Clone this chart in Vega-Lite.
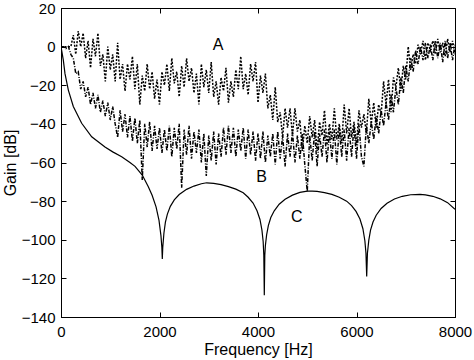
{
  "$schema": "https://vega.github.io/schema/vega-lite/v6.json",
  "width": 394,
  "height": 309,
  "autosize": "none",
  "padding": {"left": 61, "top": 8, "right": 19, "bottom": 43},
  "background": "white",
  "datasets": {
    "C": [
      {"f":0,"g":0},{"f":47,"g":-7},{"f":81,"g":-14},{"f":149,"g":-22.5},{"f":250,"g":-31},{"f":420,"g":-39.7},{"f":623,"g":-46.7},{"f":893,"g":-52},{"f":1050,"g":-54.5},{"f":1232,"g":-57},{"f":1400,"g":-60},{"f":1503,"g":-62},{"f":1650,"g":-66.5},{"f":1773,"g":-72.6},{"f":1850,"g":-77},{"f":1930,"g":-83},{"f":1990,"g":-90},{"f":2030,"g":-98},{"f":2048,"g":-104},{"f":2057,"g":-110},{"f":2066,"g":-104},{"f":2090,"g":-96.5},{"f":2120,"g":-90.9},{"f":2160,"g":-86.7},{"f":2220,"g":-82.7},{"f":2300,"g":-79.4},{"f":2400,"g":-76.6},{"f":2550,"g":-73.9},{"f":2700,"g":-72.2},{"f":2850,"g":-71},{"f":2958,"g":-70.5},{"f":3100,"g":-70.8},{"f":3250,"g":-71.5},{"f":3400,"g":-72.5},{"f":3550,"g":-73.8},{"f":3700,"g":-75.7},{"f":3800,"g":-78},{"f":3900,"g":-81},{"f":3980,"g":-85},{"f":4040,"g":-89.5},{"f":4080,"g":-95},{"f":4105,"g":-101},{"f":4118,"g":-108},{"f":4128,"g":-128.7},{"f":4138,"g":-108},{"f":4150,"g":-103},{"f":4175,"g":-97.5},{"f":4210,"g":-92.7},{"f":4260,"g":-88.5},{"f":4330,"g":-85},{"f":4430,"g":-81.6},{"f":4550,"g":-79},{"f":4700,"g":-76.9},{"f":4850,"g":-75.5},{"f":5000,"g":-74.8},{"f":5100,"g":-74.8},{"f":5200,"g":-75},{"f":5350,"g":-75.6},{"f":5500,"g":-76.5},{"f":5650,"g":-78},{"f":5800,"g":-80},{"f":5900,"g":-82.3},{"f":5990,"g":-85.3},{"f":6070,"g":-89.3},{"f":6130,"g":-94.3},{"f":6170,"g":-100.5},{"f":6192,"g":-107},{"f":6207,"g":-119},{"f":6222,"g":-107},{"f":6250,"g":-100.2},{"f":6285,"g":-95},{"f":6335,"g":-90.8},{"f":6400,"g":-87.3},{"f":6500,"g":-83.8},{"f":6620,"g":-81.1},{"f":6770,"g":-78.9},{"f":6930,"g":-77.5},{"f":7100,"g":-76.7},{"f":7290,"g":-76.5},{"f":7400,"g":-76.8},{"f":7550,"g":-77.5},{"f":7700,"g":-78.8},{"f":7850,"g":-80.8},{"f":8000,"g":-84.2}
    ],
    "A": [
      {"f":0,"g":0},{"f":50,"g":0},{"f":100,"g":0},{"f":150,"g":0},{"f":200,"g":0},{"f":250,"g":6},{"f":300,"g":-4},{"f":350,"g":8},{"f":400,"g":0},{"f":450,"g":7},{"f":500,"g":-6},{"f":550,"g":3},{"f":600,"g":-11},{"f":650,"g":4},{"f":700,"g":-5},{"f":750,"g":7},{"f":800,"g":-10},{"f":850,"g":-4},{"f":900,"g":-18},{"f":950,"g":0},{"f":1000,"g":-12},{"f":1050,"g":-4},{"f":1100,"g":-18},{"f":1150,"g":2},{"f":1200,"g":-17},{"f":1250,"g":-9},{"f":1300,"g":-23},{"f":1350,"g":-9},{"f":1400,"g":-17},{"f":1450,"g":-5},{"f":1500,"g":-22},{"f":1550,"g":-9},{"f":1600,"g":-30},{"f":1650,"g":-15},{"f":1700,"g":-23},{"f":1750,"g":-9},{"f":1800,"g":-22},{"f":1850,"g":-13},{"f":1900,"g":-27},{"f":1950,"g":-17},{"f":2000,"g":-30},{"f":2050,"g":-13},{"f":2100,"g":-20},{"f":2150,"g":-9},{"f":2200,"g":-23},{"f":2250,"g":-6},{"f":2300,"g":-19},{"f":2350,"g":-13},{"f":2400,"g":-26},{"f":2450,"g":-10},{"f":2500,"g":-21},{"f":2550,"g":-6},{"f":2600,"g":-18},{"f":2650,"g":-11},{"f":2700,"g":-24},{"f":2750,"g":-14},{"f":2800,"g":-30},{"f":2850,"g":-9},{"f":2900,"g":-21},{"f":2950,"g":-12},{"f":3000,"g":-24},{"f":3050,"g":-8},{"f":3100,"g":-26},{"f":3150,"g":-18},{"f":3200,"g":-30},{"f":3250,"g":-16},{"f":3300,"g":-23},{"f":3350,"g":-11},{"f":3400,"g":-29},{"f":3450,"g":-18},{"f":3500,"g":-26},{"f":3550,"g":-12},{"f":3600,"g":-22},{"f":3650,"g":-5},{"f":3700,"g":-22},{"f":3750,"g":-14},{"f":3800,"g":-25},{"f":3850,"g":-9},{"f":3900,"g":-18},{"f":3950,"g":-8},{"f":4000,"g":-29},{"f":4050,"g":-15},{"f":4100,"g":-24},{"f":4150,"g":-14},{"f":4200,"g":-32},{"f":4250,"g":-25},{"f":4300,"g":-38},{"f":4350,"g":-21},{"f":4400,"g":-39},{"f":4450,"g":-34},{"f":4500,"g":-47},{"f":4550,"g":-32},{"f":4600,"g":-42},{"f":4650,"g":-32},{"f":4700,"g":-46},{"f":4750,"g":-32},{"f":4800,"g":-44},{"f":4850,"g":-38},{"f":4900,"g":-54},{"f":4950,"g":-41},{"f":5000,"g":-50},{"f":5050,"g":-36},{"f":5100,"g":-47},{"f":5150,"g":-38},{"f":5200,"g":-54},{"f":5250,"g":-39},{"f":5300,"g":-46},{"f":5350,"g":-33},{"f":5400,"g":-51},{"f":5450,"g":-40},{"f":5500,"g":-48},{"f":5550,"g":-32},{"f":5600,"g":-48},{"f":5650,"g":-40},{"f":5700,"g":-50},{"f":5750,"g":-30},{"f":5800,"g":-45},{"f":5850,"g":-32},{"f":5900,"g":-47},{"f":5950,"g":-39},{"f":6000,"g":-51},{"f":6050,"g":-33},{"f":6100,"g":-42},{"f":6150,"g":-35},{"f":6200,"g":-45},{"f":6250,"g":-27},{"f":6300,"g":-40},{"f":6350,"g":-29},{"f":6400,"g":-42},{"f":6450,"g":-30},{"f":6500,"g":-35},{"f":6550,"g":-18},{"f":6600,"g":-30},{"f":6650,"g":-17},{"f":6700,"g":-34},{"f":6750,"g":-16},{"f":6800,"g":-21},{"f":6850,"g":-11},{"f":6900,"g":-23},{"f":6950,"g":-10},{"f":7000,"g":-17},{"f":7050,"g":0},{"f":7100,"g":-12},{"f":7150,"g":-4},{"f":7200,"g":-9},{"f":7250,"g":1},{"f":7300,"g":-4},{"f":7350,"g":3},{"f":7400,"g":-7},{"f":7450,"g":2},{"f":7500,"g":-2},{"f":7550,"g":3},{"f":7600,"g":-4},{"f":7650,"g":4},{"f":7700,"g":-3},{"f":7750,"g":2},{"f":7800,"g":-5},{"f":7850,"g":4},{"f":7900,"g":-3},{"f":7950,"g":3},{"f":8000,"g":-4}
    ],
    "B": [
      {"f":0,"g":0},{"f":50,"g":0},{"f":100,"g":-1},{"f":150,"g":0},{"f":200,"g":-4},{"f":250,"g":-6},{"f":300,"g":-14},{"f":350,"g":-13},{"f":400,"g":-22},{"f":450,"g":-18},{"f":500,"g":-26},{"f":550,"g":-21},{"f":600,"g":-30},{"f":650,"g":-24},{"f":700,"g":-32},{"f":750,"g":-25},{"f":800,"g":-34},{"f":850,"g":-28},{"f":900,"g":-36},{"f":950,"g":-29},{"f":1000,"g":-38},{"f":1050,"g":-31},{"f":1100,"g":-40},{"f":1150,"g":-47},{"f":1200,"g":-33},{"f":1250,"g":-44},{"f":1300,"g":-35},{"f":1350,"g":-47},{"f":1400,"g":-36},{"f":1450,"g":-49},{"f":1500,"g":-37},{"f":1550,"g":-50},{"f":1600,"g":-38},{"f":1650,"g":-69},{"f":1700,"g":-40},{"f":1750,"g":-52},{"f":1800,"g":-39},{"f":1850,"g":-54},{"f":1900,"g":-41},{"f":1950,"g":-53},{"f":2000,"g":-42},{"f":2050,"g":-55},{"f":2100,"g":-43},{"f":2150,"g":-54},{"f":2200,"g":-41},{"f":2250,"g":-57},{"f":2300,"g":-42},{"f":2350,"g":-53},{"f":2400,"g":-40},{"f":2450,"g":-73},{"f":2500,"g":-43},{"f":2550,"g":-56},{"f":2600,"g":-41},{"f":2650,"g":-58},{"f":2700,"g":-44},{"f":2750,"g":-55},{"f":2800,"g":-43},{"f":2850,"g":-60},{"f":2900,"g":-45},{"f":2950,"g":-67},{"f":3000,"g":-46},{"f":3050,"g":-59},{"f":3100,"g":-44},{"f":3150,"g":-61},{"f":3200,"g":-45},{"f":3250,"g":-57},{"f":3300,"g":-42},{"f":3350,"g":-56},{"f":3400,"g":-41},{"f":3450,"g":-55},{"f":3500,"g":-42},{"f":3550,"g":-57},{"f":3600,"g":-43},{"f":3650,"g":-54},{"f":3700,"g":-42},{"f":3750,"g":-58},{"f":3800,"g":-43},{"f":3850,"g":-56},{"f":3900,"g":-44},{"f":3950,"g":-59},{"f":4000,"g":-45},{"f":4050,"g":-58},{"f":4100,"g":-44},{"f":4150,"g":-60},{"f":4200,"g":-46},{"f":4250,"g":-57},{"f":4300,"g":-45},{"f":4350,"g":-61},{"f":4400,"g":-44},{"f":4450,"g":-58},{"f":4500,"g":-46},{"f":4550,"g":-62},{"f":4600,"g":-45},{"f":4650,"g":-57},{"f":4700,"g":-44},{"f":4750,"g":-60},{"f":4800,"g":-46},{"f":4850,"g":-58},{"f":4900,"g":-45},{"f":4950,"g":-61},{"f":5000,"g":-75},{"f":5050,"g":-46},{"f":5100,"g":-59},{"f":5150,"g":-44},{"f":5200,"g":-62},{"f":5250,"g":-45},{"f":5300,"g":-57},{"f":5350,"g":-43},{"f":5400,"g":-60},{"f":5450,"g":-44},{"f":5500,"g":-58},{"f":5550,"g":-43},{"f":5600,"g":-61},{"f":5650,"g":-42},{"f":5700,"g":-57},{"f":5750,"g":-43},{"f":5800,"g":-59},{"f":5850,"g":-42},{"f":5900,"g":-57},{"f":5950,"g":-41},{"f":6000,"g":-58},{"f":6050,"g":-40},{"f":6100,"g":-57},{"f":6150,"g":-62},{"f":6200,"g":-41},{"f":6250,"g":-50},{"f":6300,"g":-39},{"f":6350,"g":-48},{"f":6400,"g":-36},{"f":6450,"g":-45},{"f":6500,"g":-33},{"f":6550,"g":-41},{"f":6600,"g":-29},{"f":6650,"g":-38},{"f":6700,"g":-25},{"f":6750,"g":-34},{"f":6800,"g":-21},{"f":6850,"g":-30},{"f":6900,"g":-16},{"f":6950,"g":-24},{"f":7000,"g":-10},{"f":7050,"g":-18},{"f":7100,"g":-6},{"f":7150,"g":-13},{"f":7200,"g":-2},{"f":7250,"g":-9},{"f":7300,"g":0},{"f":7350,"g":-7},{"f":7400,"g":2},{"f":7450,"g":-6},{"f":7500,"g":1},{"f":7550,"g":-7},{"f":7600,"g":3},{"f":7650,"g":-6},{"f":7700,"g":2},{"f":7750,"g":-8},{"f":7800,"g":3},{"f":7850,"g":-6},{"f":7900,"g":2},{"f":7950,"g":-7},{"f":8000,"g":1}
    ],
    "L": [
      {"f":3190,"g":1,"t":"A"},{"f":4075,"g":-67.4,"t":"B"},{"f":4785,"g":-88.1,"t":"C"}
    ]
  },
  "layer": [
    {
      "data": {"name": "C"},
      "mark": {"type": "line", "color": "black", "strokeWidth": 1.2, "clip": true},
      "encoding": {
        "x": {"field": "f", "type": "quantitative", "scale": {"domain": [0, 8000], "nice": false, "zero": false},
              "axis": {"orient": "bottom", "title": "Frequency [Hz]", "values": [0, 2000, 4000, 6000, 8000], "format": "d", "labelBaseline": "alphabetic", "labelPadding": 24, "titleBaseline": "alphabetic", "titleY": 37}},
        "y": {"field": "g", "type": "quantitative", "scale": {"domain": [-140, 20], "nice": false, "zero": false},
              "axis": {"orient": "left", "title": "Gain [dB]", "values": [-140, -120, -100, -80, -60, -40, -20, 0, 20], "labelPadding": 11, "titleBaseline": "middle", "titleX": -51}}
      }
    },
    {
      "data": {"name": "A"},
      "mark": {"type": "line", "color": "black", "strokeWidth": 1.5, "strokeDash": [2, 1.5], "clip": true},
      "encoding": {
        "x": {"field": "f", "type": "quantitative", "axis": null},
        "y": {"field": "g", "type": "quantitative", "axis": null}
      }
    },
    {
      "data": {"name": "B"},
      "mark": {"type": "line", "color": "black", "strokeWidth": 1.5, "strokeDash": [4, 1.5, 1, 1.5], "clip": true},
      "encoding": {
        "x": {"field": "f", "type": "quantitative", "axis": null},
        "y": {"field": "g", "type": "quantitative", "axis": null}
      }
    },
    {
      "data": {"name": "L"},
      "mark": {"type": "text", "color": "black", "font": "Liberation Sans", "fontSize": 16, "align": "center", "baseline": "middle"},
      "encoding": {
        "x": {"field": "f", "type": "quantitative", "axis": {"orient": "top", "labels": false, "title": null, "domain": false, "values": [0, 2000, 4000, 6000, 8000]}},
        "y": {"field": "g", "type": "quantitative", "axis": {"orient": "right", "labels": false, "title": null, "domain": false, "values": [-140, -120, -100, -80, -60, -40, -20, 0, 20]}},
        "text": {"field": "t", "type": "nominal"}
      }
    }
  ],
  "resolve": {"axis": {"x": "independent", "y": "independent"}},
  "config": {
    "view": {"stroke": "black", "strokeWidth": 1},
    "axis": {
      "labelFont": "Liberation Sans", "titleFont": "Liberation Sans",
      "labelFontSize": 15, "titleFontSize": 16, "titleFontWeight": "normal",
      "labelColor": "black", "titleColor": "black", "domainColor": "black", "tickColor": "black",
      "grid": false, "tickSize": -5, "labelFlush": false, "labelOverlap": false
    }
  }
}
